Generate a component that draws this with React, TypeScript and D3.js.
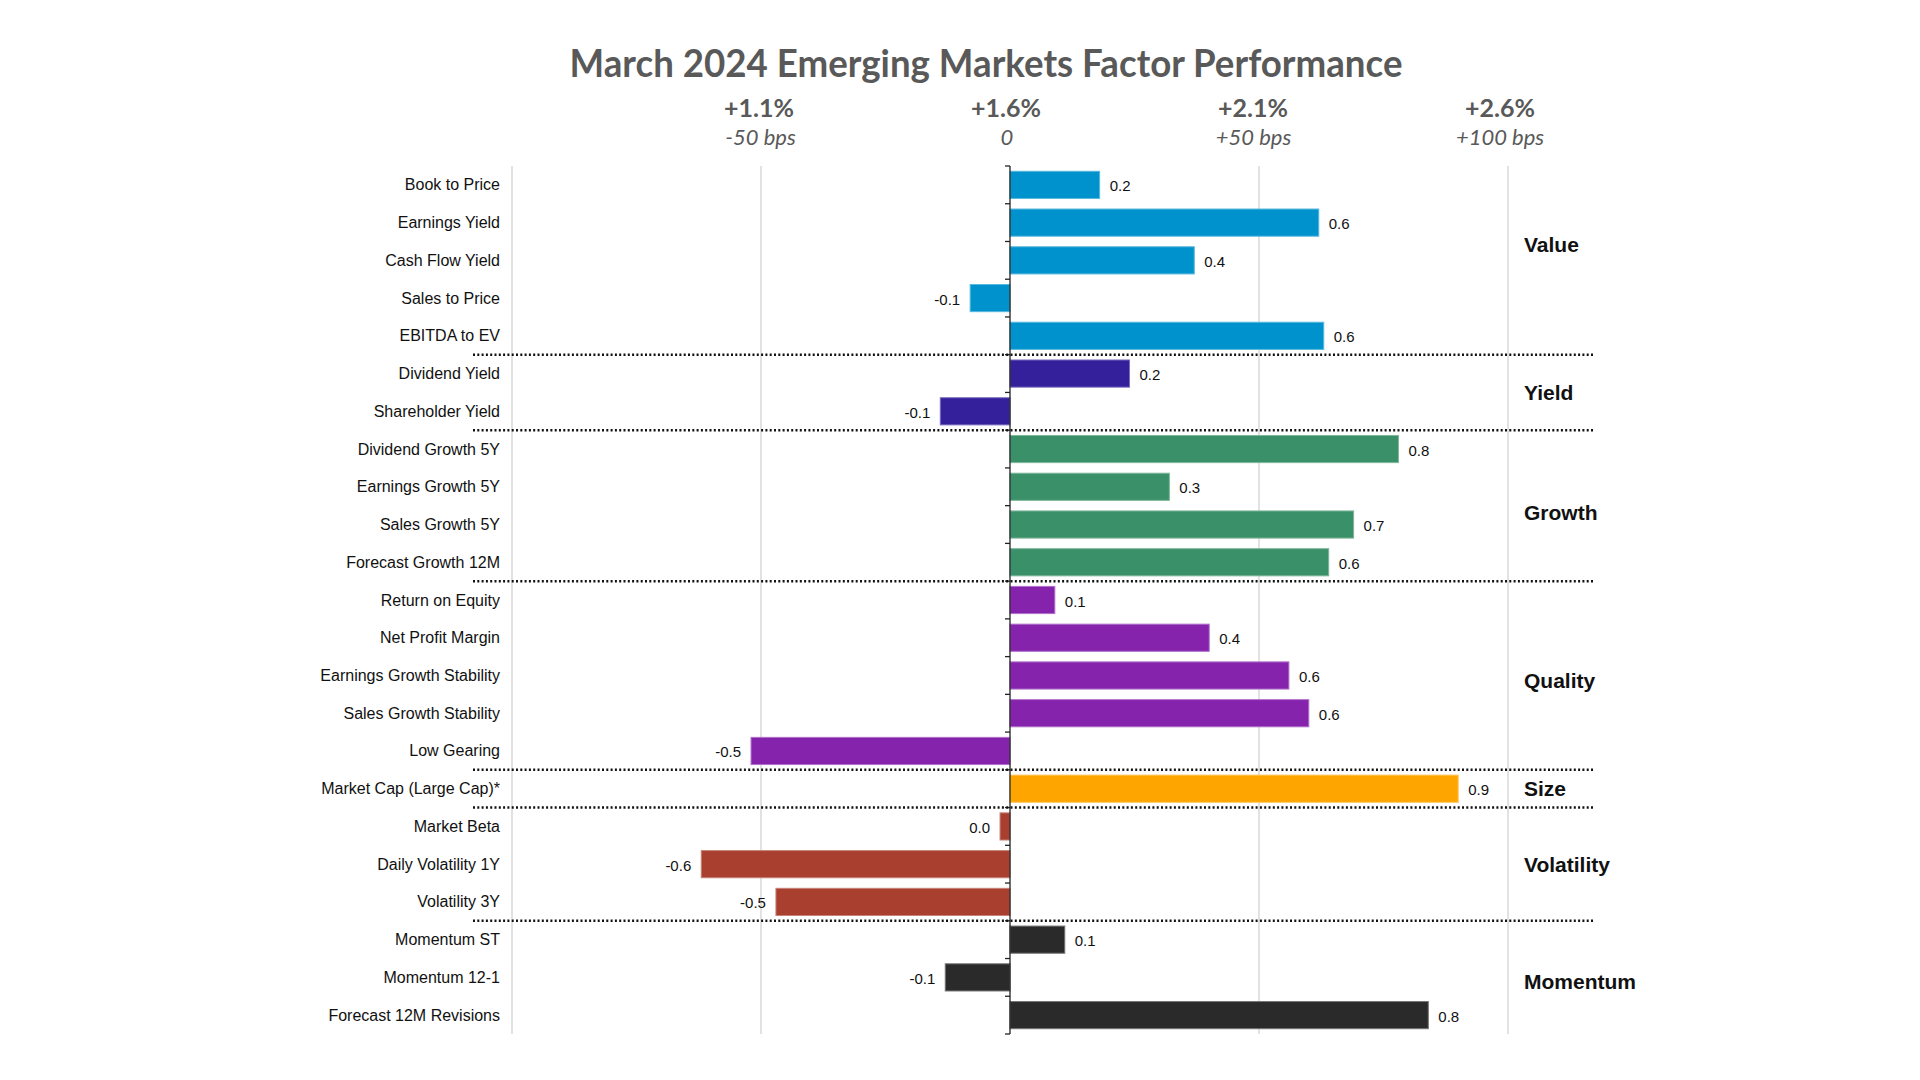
import React from "react";
import * as d3 from "d3";

const TITLE = "March 2024 Emerging Markets Factor Performance";

const factors = [
  "Book to Price", "Earnings Yield", "Cash Flow Yield", "Sales to Price", "EBITDA to EV",
  "Dividend Yield", "Shareholder Yield",
  "Dividend Growth 5Y", "Earnings Growth 5Y", "Sales Growth 5Y", "Forecast Growth 12M",
  "Return on Equity", "Net Profit Margin", "Earnings Growth Stability", "Sales Growth Stability", "Low Gearing",
  "Market Cap (Large Cap)*",
  "Market Beta", "Daily Volatility 1Y", "Volatility 3Y",
  "Momentum ST", "Momentum 12-1", "Forecast 12M Revisions",
];

const values = [
  0.18, 0.62, 0.37, -0.08, 0.63,
  0.24, -0.14,
  0.78, 0.32, 0.69, 0.64,
  0.09, 0.40, 0.56, 0.60, -0.52,
  0.90,
  -0.02, -0.62, -0.47,
  0.11, -0.13, 0.84,
];

const groupNames = ["Value", "Yield", "Growth", "Quality", "Size", "Volatility", "Momentum"];
const groupSizes = [5, 2, 4, 5, 1, 3, 3];
const groupColors = ["#0092CC", "#35209B", "#3A9068", "#8523AD", "#FFA500", "#A83F2F", "#2A2A2A"];

const headerTicks = [-0.5, 0, 0.5, 1.0];
const headerTop = ["+1.1%", "+1.6%", "+2.1%", "+2.6%"];
const headerBottom = ["-50 bps", "0", "+50 bps", "+100 bps"];
const gridTicks = [-1, -0.5, 0.5, 1];

const W = 1920;
const H = 1080;

export default function App() {
  const top = 166;
  const bottom = 1034;
  const x = d3.scaleLinear().domain([-1, 1]).range([512, 1508]);
  const y = d3
    .scaleBand<string>()
    .domain(factors)
    .range([top, bottom])
    .paddingInner(0.28)
    .paddingOuter(0.14);
  const step = y.step();

  const rowGroup: number[] = [];
  groupSizes.forEach((n, gi) => {
    for (let i = 0; i < n; i++) rowGroup.push(gi);
  });

  const starts: number[] = [];
  let acc = 0;
  groupSizes.forEach((n) => {
    starts.push(acc);
    acc += n;
  });

  const boundaryY = (rowIndex: number) => top + rowIndex * step;

  const fmt = (v: number) => {
    const s = v.toFixed(1);
    return s === "-0.0" ? "0.0" : s;
  };

  const labelShift: Record<string, number> = { Value: -0.42, Growth: 0.17, Quality: 0.12, Momentum: 0.1 };

  const x0 = x(0);

  return (
    <div style={{ position: "absolute", left: 0, top: 0, width: W, height: H, background: "#fff" }}>
      <svg width={W} height={H} viewBox={`0 0 ${W} ${H}`} style={{ display: "block" }}>
        <rect x={0} y={0} width={W} height={H} fill="#fff" />
        <text
          x={986}
          y={77}
          textAnchor="middle"
          fontFamily="Lato, 'Open Sans', sans-serif"
          fontWeight={700}
          fontSize={38}
          fill="#595959"
          textLength={833}
          lengthAdjust="spacingAndGlyphs"
        >
          {TITLE}
        </text>

        {headerTicks.map((t, i) => (
          <g key={"h" + i}>
            <text
              x={x(t) - 4 - t * 4}
              y={117}
              textAnchor="middle"
              fontFamily="Lato, 'Open Sans', sans-serif"
              fontWeight={700}
              fontSize={25}
              fill="#595959"
            >
              {headerTop[i]}
            </text>
            <text
              x={x(t) - 3 - t * 5}
              y={145}
              textAnchor="middle"
              fontFamily="Lato, 'Open Sans', sans-serif"
              fontStyle="italic"
              fontSize={22}
              fill="#595959"
            >
              {headerBottom[i]}
            </text>
          </g>
        ))}

        {gridTicks.map((t) => (
          <line key={"g" + t} x1={x(t)} x2={x(t)} y1={top} y2={bottom} stroke="#d9d9d9" strokeWidth={1.5} />
        ))}

        {factors.map((f, i) => {
          const v = values[i];
          const c = groupColors[rowGroup[i]];
          const bx = Math.min(x(v), x0);
          const bw = Math.abs(x(v) - x0);
          const by = y(f)!;
          const cy = by + y.bandwidth() / 2;
          return (
            <g key={f}>
              <rect
                x={bx}
                y={by}
                width={bw}
                height={y.bandwidth()}
                fill={c}
                stroke={d3.interpolateRgb(c, "#ffffff")(0.35)}
                strokeWidth={1}
              />
              <text
                x={500}
                y={cy}
                textAnchor="end"
                dominantBaseline="central"
                fontFamily="'Liberation Sans', Arial, sans-serif"
                fontSize={16}
                fill="#111"
              >
                {f}
              </text>
              <text
                x={v >= 0 ? x(v) + 10 : x(v) - 10}
                y={cy + 1}
                textAnchor={v >= 0 ? "start" : "end"}
                dominantBaseline="central"
                fontFamily="'Liberation Sans', Arial, sans-serif"
                fontSize={15}
                fill="#111"
              >
                {fmt(v)}
              </text>
            </g>
          );
        })}

        <line x1={x0} x2={x0} y1={top} y2={bottom} stroke="#222" strokeWidth={1.3} />
        {d3.range(factors.length + 1).map((k) => (
          <line key={"t" + k} x1={x0 - 5} x2={x0} y1={boundaryY(k)} y2={boundaryY(k)} stroke="#222" strokeWidth={1.3} />
        ))}

        {starts.slice(1).map((s) => (
          <line
            key={"s" + s}
            x1={473}
            x2={1594}
            y1={boundaryY(s)}
            y2={boundaryY(s)}
            stroke="#111"
            strokeWidth={2.5}
            strokeDasharray="2 2.3"
          />
        ))}

        {groupNames.map((g, gi) => {
          const mid = starts[gi] + groupSizes[gi] / 2 + (labelShift[g] || 0);
          return (
            <text
              key={g}
              x={1524}
              y={top + mid * step}
              dominantBaseline="central"
              fontFamily="'Liberation Sans', Arial, sans-serif"
              fontWeight={700}
              fontSize={21}
              fill="#111"
            >
              {g}
            </text>
          );
        })}
      </svg>
    </div>
  );
}
